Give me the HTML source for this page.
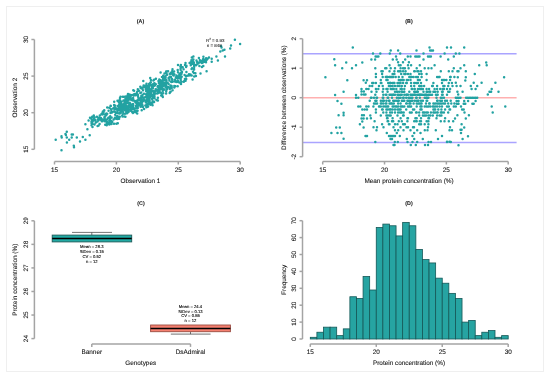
<!DOCTYPE html>
<html><head><meta charset="utf-8"><style>html,body{margin:0;padding:0;background:#fff}svg{display:block}</style></head>
<body><svg width="550" height="379" viewBox="0 0 550 379" font-family='"Liberation Sans", sans-serif'>
<style>text{stroke:#111;stroke-width:0.08px}text.s{stroke:#000;stroke-width:0.1px}text.r{stroke:#333;stroke-width:0.08px}text{text-rendering:geometricPrecision}</style>
<rect width="550" height="379" fill="#fff"/>
<filter id="bl" filterUnits="userSpaceOnUse" x="0" y="0" width="550" height="379"><feGaussianBlur stdDeviation="0.5"/></filter>
<filter id="bt" filterUnits="userSpaceOnUse" x="0" y="0" width="550" height="379"><feGaussianBlur stdDeviation="0.2"/></filter>
<g filter="url(#bl)">
<rect x="6.5" y="6.5" width="537" height="365" fill="none" stroke="#efefef" stroke-width="1"/>
<line x1="34.4" y1="39.5" x2="34.4" y2="149.3" stroke="#a4a4a4" stroke-width="1.5"/>
<line x1="31.4" y1="149.3" x2="34.4" y2="149.3" stroke="#a4a4a4" stroke-width="1.5"/>
<line x1="31.4" y1="112.70000000000002" x2="34.4" y2="112.70000000000002" stroke="#a4a4a4" stroke-width="1.5"/>
<line x1="31.4" y1="76.10000000000001" x2="34.4" y2="76.10000000000001" stroke="#a4a4a4" stroke-width="1.5"/>
<line x1="31.4" y1="39.5" x2="34.4" y2="39.5" stroke="#a4a4a4" stroke-width="1.5"/>
<line x1="54.5" y1="161.5" x2="240.2" y2="161.5" stroke="#a4a4a4" stroke-width="1.5"/>
<line x1="54.5" y1="161.5" x2="54.5" y2="164.5" stroke="#a4a4a4" stroke-width="1.5"/>
<line x1="116.4" y1="161.5" x2="116.4" y2="164.5" stroke="#a4a4a4" stroke-width="1.5"/>
<line x1="178.3" y1="161.5" x2="178.3" y2="164.5" stroke="#a4a4a4" stroke-width="1.5"/>
<line x1="240.2" y1="161.5" x2="240.2" y2="164.5" stroke="#a4a4a4" stroke-width="1.5"/>
<path d="M176.7 77.6h0 M196.7 64.6h0 M155.5 93.6h0 M202.7 61.5h0 M149.8 102.5h0 M177.5 76.3h0 M128.0 94.0h0 M181.9 71.7h0 M125.9 107.8h0 M194.1 67.8h0 M161.2 81.6h0 M181.9 72.4h0 M169.7 92.9h0 M109.3 120.9h0 M111.6 117.5h0 M176.3 82.0h0 M148.1 92.3h0 M145.9 87.2h0 M141.8 103.4h0 M158.5 81.1h0 M125.2 110.4h0 M93.8 115.5h0 M181.5 66.9h0 M146.1 91.1h0 M103.6 111.9h0 M165.6 87.2h0 M180.6 69.7h0 M194.9 64.9h0 M148.4 92.6h0 M148.8 91.2h0 M117.5 118.0h0 M162.1 82.5h0 M135.8 106.1h0 M164.3 76.7h0 M167.5 87.2h0 M148.5 92.2h0 M124.8 104.4h0 M138.0 96.0h0 M137.9 100.6h0 M168.1 71.3h0 M118.8 105.2h0 M190.8 75.2h0 M90.0 117.7h0 M129.9 97.1h0 M155.8 84.3h0 M94.5 124.6h0 M141.9 102.0h0 M154.1 101.9h0 M129.7 102.8h0 M154.6 92.3h0 M140.7 99.0h0 M172.6 74.4h0 M149.0 94.3h0 M110.9 117.7h0 M128.8 105.9h0 M120.0 98.0h0 M135.1 101.7h0 M131.1 110.4h0 M130.6 99.6h0 M180.4 75.9h0 M127.9 99.0h0 M137.2 91.7h0 M110.4 123.5h0 M101.5 113.9h0 M126.3 103.6h0 M116.4 123.7h0 M130.2 110.2h0 M112.2 121.7h0 M128.3 107.0h0 M104.6 118.3h0 M128.5 112.1h0 M164.5 73.5h0 M119.8 116.7h0 M166.1 71.5h0 M141.7 104.9h0 M91.5 123.0h0 M166.9 71.6h0 M193.0 71.7h0 M131.9 104.7h0 M191.4 61.9h0 M193.9 73.1h0 M159.5 90.3h0 M112.0 112.4h0 M186.5 66.1h0 M130.1 96.8h0 M191.6 62.8h0 M150.5 102.9h0 M139.1 90.8h0 M149.4 103.7h0 M174.1 71.4h0 M202.2 60.6h0 M178.0 72.3h0 M112.3 111.9h0 M129.3 99.0h0 M132.1 100.2h0 M118.0 110.0h0 M98.8 117.8h0 M119.0 102.2h0 M191.7 75.4h0 M117.4 117.7h0 M170.2 74.0h0 M154.0 92.7h0 M163.1 86.2h0 M136.5 107.4h0 M137.0 100.8h0 M93.9 118.7h0 M127.0 111.2h0 M163.6 77.8h0 M186.0 79.0h0 M161.3 92.7h0 M125.4 103.2h0 M178.2 77.7h0 M133.3 99.4h0 M186.4 71.9h0 M152.2 87.1h0 M146.6 94.1h0 M105.2 124.7h0 M190.8 62.3h0 M136.7 110.4h0 M162.6 82.5h0 M120.4 105.5h0 M114.0 123.7h0 M205.2 60.1h0 M160.0 83.9h0 M148.5 87.0h0 M157.5 93.6h0 M154.4 94.1h0 M119.4 104.0h0 M138.3 99.6h0 M158.8 82.9h0 M172.6 73.2h0 M106.1 114.4h0 M120.6 111.1h0 M114.1 105.1h0 M102.9 111.6h0 M170.6 91.7h0 M98.9 119.2h0 M192.8 63.7h0 M137.4 94.5h0 M101.7 120.8h0 M122.9 111.9h0 M104.3 119.1h0 M118.7 117.6h0 M179.3 74.8h0 M130.3 103.8h0 M134.3 111.7h0 M143.3 80.9h0 M125.0 113.7h0 M166.9 82.9h0 M110.8 105.9h0 M164.1 79.7h0 M109.4 107.7h0 M150.1 97.1h0 M134.8 108.5h0 M119.1 109.4h0 M154.6 98.3h0 M168.6 78.0h0 M95.3 120.2h0 M110.7 117.2h0 M115.1 105.6h0 M141.5 98.2h0 M203.2 58.9h0 M159.6 79.9h0 M176.4 81.6h0 M92.5 126.9h0 M109.5 122.1h0 M152.9 88.1h0 M147.8 88.2h0 M152.4 102.8h0 M122.7 109.9h0 M102.1 114.6h0 M133.7 95.6h0 M172.5 79.9h0 M140.3 86.8h0 M146.5 86.0h0 M106.4 113.5h0 M122.8 111.8h0 M128.3 106.1h0 M145.6 100.5h0 M191.4 60.2h0 M96.9 116.7h0 M127.4 106.2h0 M142.9 101.2h0 M171.6 86.1h0 M108.6 110.7h0 M113.1 108.4h0 M178.2 82.0h0 M126.0 110.5h0 M130.4 97.7h0 M149.5 94.8h0 M154.1 79.8h0 M127.3 99.1h0 M93.3 120.3h0 M162.2 93.4h0 M175.1 79.5h0 M107.5 118.9h0 M185.0 64.9h0 M148.4 91.1h0 M122.5 107.2h0 M141.3 95.9h0 M91.7 122.2h0 M172.3 71.0h0 M124.1 96.7h0 M154.5 96.2h0 M157.9 100.4h0 M148.9 99.6h0 M147.5 91.8h0 M163.5 84.1h0 M91.6 124.9h0 M126.8 111.1h0 M122.3 104.4h0 M172.6 90.3h0 M119.7 113.4h0 M158.7 91.8h0 M125.6 104.8h0 M133.3 90.2h0 M141.5 96.4h0 M117.4 111.4h0 M141.9 101.9h0 M128.7 106.2h0 M192.2 62.5h0 M194.1 69.5h0 M149.1 98.3h0 M126.9 107.7h0 M169.4 80.6h0 M127.4 109.0h0 M193.0 61.4h0 M181.8 72.1h0 M141.8 88.1h0 M127.2 113.2h0 M117.4 116.1h0 M193.4 59.4h0 M95.2 120.1h0 M171.1 77.2h0 M133.7 109.1h0 M184.3 81.0h0 M153.1 85.7h0 M169.3 79.2h0 M137.9 103.4h0 M105.2 120.6h0 M150.8 82.3h0 M142.1 102.0h0 M146.6 101.1h0 M104.3 110.6h0 M114.2 101.7h0 M183.6 69.2h0 M122.3 111.2h0 M163.7 79.4h0 M102.3 121.2h0 M119.1 108.4h0 M149.6 101.1h0 M197.1 62.0h0 M127.2 106.4h0 M202.9 60.6h0 M143.8 86.9h0 M165.2 83.1h0 M159.5 90.2h0 M114.8 111.7h0 M169.2 87.7h0 M127.7 95.2h0 M136.7 107.7h0 M160.4 85.9h0 M142.2 104.5h0 M155.6 89.3h0 M146.7 96.8h0 M120.9 107.7h0 M150.5 89.5h0 M147.7 99.4h0 M100.9 118.0h0 M155.1 85.2h0 M118.4 101.6h0 M151.0 91.6h0 M92.9 120.3h0 M183.7 81.7h0 M146.4 94.1h0 M186.4 65.7h0 M116.3 118.7h0 M178.6 76.3h0 M157.3 90.4h0 M155.0 85.0h0 M130.6 96.6h0 M104.6 118.5h0 M146.5 83.7h0 M136.3 101.9h0 M173.1 74.9h0 M122.2 105.6h0 M130.9 108.8h0 M150.0 96.4h0 M137.8 89.3h0 M180.0 76.4h0 M124.3 103.3h0 M140.9 103.8h0 M147.2 86.5h0 M156.9 89.6h0 M140.0 104.7h0 M128.1 96.6h0 M137.8 108.0h0 M165.8 80.2h0 M151.9 88.1h0 M123.0 113.7h0 M141.6 95.8h0 M125.4 113.6h0 M150.8 94.5h0 M180.6 68.3h0 M184.6 75.1h0 M116.9 118.6h0 M148.3 99.0h0 M148.5 102.8h0 M125.8 105.6h0 M124.5 116.6h0 M174.3 74.2h0 M161.3 86.6h0 M147.6 105.6h0 M132.5 95.0h0 M147.2 91.7h0 M147.1 100.9h0 M140.2 103.0h0 M169.6 76.8h0 M154.3 94.8h0 M180.9 65.1h0 M131.8 109.2h0 M129.5 105.3h0 M206.1 58.2h0 M99.8 115.5h0 M162.0 86.8h0 M92.2 116.7h0 M166.5 80.3h0 M177.9 80.4h0 M142.7 106.3h0 M189.6 63.1h0 M167.0 89.2h0 M157.6 86.7h0 M166.1 93.5h0 M178.0 65.1h0 M147.3 90.5h0 M160.0 81.2h0 M141.3 105.0h0 M199.4 66.1h0 M160.0 87.5h0 M160.5 92.6h0 M153.0 84.4h0 M136.9 95.1h0 M100.5 118.7h0 M154.7 84.9h0 M132.9 106.5h0 M143.0 87.6h0 M98.6 120.3h0 M147.2 95.8h0 M185.6 80.7h0 M147.4 103.8h0 M94.6 117.8h0 M122.7 108.5h0 M195.4 73.3h0 M146.3 89.7h0 M164.5 89.4h0 M163.5 78.1h0 M140.7 102.8h0 M178.4 77.3h0 M143.6 85.5h0 M150.0 92.5h0 M136.3 103.3h0 M137.5 100.3h0 M146.4 91.4h0 M138.2 105.7h0 M125.4 99.0h0 M153.7 101.5h0 M203.3 66.0h0 M150.9 79.9h0 M139.4 100.2h0 M128.0 103.0h0 M155.2 91.2h0 M172.7 74.5h0 M158.4 85.9h0 M172.6 81.8h0 M136.7 93.2h0 M115.2 114.8h0 M186.2 78.9h0 M149.0 87.8h0 M137.0 105.1h0 M140.7 97.8h0 M91.5 121.4h0 M105.3 116.4h0 M151.2 92.6h0 M132.6 100.2h0 M109.4 124.4h0 M119.2 113.4h0 M150.6 82.6h0 M190.5 74.5h0 M163.9 80.4h0 M125.4 116.8h0 M146.8 100.6h0 M151.2 96.1h0 M148.1 85.8h0 M110.2 116.3h0 M124.4 103.7h0 M132.0 111.7h0 M186.1 67.0h0 M110.2 121.0h0 M138.0 103.1h0 M172.5 69.2h0 M140.6 103.9h0 M129.0 109.5h0 M134.2 108.5h0 M127.3 113.0h0 M193.4 56.5h0 M165.6 77.3h0 M147.0 99.1h0 M149.6 88.9h0 M121.1 108.7h0 M131.8 100.1h0 M119.8 103.1h0 M105.2 114.4h0 M136.2 110.8h0 M157.5 100.6h0 M104.6 116.7h0 M169.8 89.1h0 M119.3 110.1h0 M107.3 122.7h0 M122.8 96.8h0 M171.7 87.1h0 M147.8 106.7h0 M117.8 108.7h0 M127.1 107.9h0 M170.1 92.2h0 M163.5 83.0h0 M120.1 100.3h0 M175.3 86.3h0 M94.6 120.3h0 M161.0 84.8h0 M100.7 119.7h0 M98.6 125.6h0 M150.0 90.1h0 M152.2 99.2h0 M162.2 85.8h0 M162.4 96.0h0 M147.7 96.0h0 M99.6 124.1h0 M194.0 66.0h0 M150.3 97.5h0 M103.6 114.1h0 M105.9 121.4h0 M148.3 94.6h0 M154.5 83.2h0 M181.1 77.4h0 M111.5 123.9h0 M134.8 94.1h0 M104.4 117.4h0 M199.9 60.2h0 M101.7 118.9h0 M117.8 123.2h0 M158.9 88.6h0 M117.4 119.0h0 M177.7 86.2h0 M147.0 98.4h0 M181.5 73.8h0 M140.3 100.6h0 M108.6 123.6h0 M163.2 93.3h0 M149.8 83.3h0 M145.6 85.6h0 M162.1 80.5h0 M148.4 97.8h0 M148.1 106.5h0 M120.2 103.8h0 M108.9 117.6h0 M123.4 107.2h0 M161.3 83.8h0 M142.3 104.7h0 M133.2 100.5h0 M156.5 99.9h0 M152.2 99.1h0 M92.4 123.7h0 M163.2 75.7h0 M129.7 103.3h0 M149.3 101.9h0 M103.8 120.2h0 M132.1 108.7h0 M180.4 66.5h0 M152.5 91.1h0 M165.5 76.2h0 M183.9 81.7h0 M145.7 88.9h0 M150.8 104.0h0 M123.4 104.2h0 M149.9 85.3h0 M147.8 99.1h0 M139.1 104.2h0 M159.7 82.4h0 M94.5 117.3h0 M119.2 108.4h0 M104.2 110.2h0 M132.9 113.0h0 M91.5 125.2h0 M116.7 116.7h0 M128.8 95.3h0 M137.7 103.1h0 M147.6 100.3h0 M138.2 97.5h0 M120.5 96.7h0 M153.0 90.7h0 M179.5 82.4h0 M146.2 94.8h0 M125.5 100.6h0 M124.5 105.2h0 M158.7 89.4h0 M121.2 106.6h0 M157.9 97.7h0 M134.8 110.8h0 M127.7 110.7h0 M133.2 104.1h0 M171.3 82.1h0 M118.3 109.6h0 M174.3 86.0h0 M163.2 76.1h0 M104.7 118.3h0 M155.3 84.1h0 M133.1 98.0h0 M157.7 91.5h0 M158.1 85.9h0 M150.2 78.1h0 M150.9 90.2h0 M163.2 86.1h0 M181.0 84.1h0 M151.8 94.4h0 M141.8 97.0h0 M131.8 106.2h0 M127.4 109.7h0 M115.5 118.6h0 M153.5 90.9h0 M154.3 85.7h0 M138.7 99.9h0 M124.7 109.4h0 M188.9 75.6h0 M177.7 70.1h0 M142.3 96.1h0 M174.3 87.6h0 M142.2 88.8h0 M108.3 117.8h0 M145.3 105.5h0 M161.2 95.6h0 M202.8 62.5h0 M166.2 91.2h0 M146.3 104.9h0 M175.9 77.3h0 M191.6 69.1h0 M153.2 96.0h0 M102.7 112.2h0 M149.6 99.9h0 M125.5 101.5h0 M122.5 116.5h0 M169.8 73.7h0 M136.7 106.0h0 M179.7 74.0h0 M171.7 88.1h0 M145.9 102.5h0 M159.0 83.0h0 M140.6 106.7h0 M145.8 102.3h0 M126.4 112.3h0 M158.9 89.8h0 M144.0 93.8h0 M146.4 107.3h0 M166.2 79.8h0 M160.8 80.6h0 M117.1 112.6h0 M137.6 110.7h0 M151.8 102.9h0 M165.0 78.0h0 M161.8 89.0h0 M153.0 97.7h0 M154.1 94.1h0 M160.6 89.3h0 M148.7 98.1h0 M107.2 113.8h0 M162.8 97.1h0 M176.5 75.5h0 M106.7 125.3h0 M142.8 101.2h0 M163.2 78.6h0 M133.1 105.3h0 M110.9 120.8h0 M124.5 101.2h0 M171.2 72.4h0 M170.9 77.0h0 M161.4 93.3h0 M121.5 101.8h0 M117.8 106.0h0 M122.2 115.4h0 M123.5 100.5h0 M120.7 103.5h0 M162.7 89.7h0 M155.9 78.7h0 M120.5 112.2h0 M105.5 119.8h0 M114.9 117.8h0 M114.8 109.1h0 M174.9 81.4h0 M133.0 98.7h0 M123.2 105.9h0 M110.0 119.1h0 M180.3 78.6h0 M162.0 85.5h0 M161.7 81.6h0 M135.6 95.3h0 M200.4 61.4h0 M150.2 97.1h0 M181.7 76.7h0 M177.6 77.9h0 M167.1 74.7h0 M118.0 108.7h0 M131.4 98.4h0 M134.1 90.8h0 M150.6 104.2h0 M107.2 107.4h0 M124.9 107.5h0 M147.8 97.2h0 M167.6 82.8h0 M152.6 105.3h0 M127.7 110.9h0 M127.0 97.3h0 M129.3 94.5h0 M117.8 112.9h0 M142.5 95.1h0 M163.9 85.0h0 M92.6 121.6h0 M198.3 62.9h0 M143.9 100.4h0 M173.7 75.5h0 M189.0 74.2h0 M187.2 75.7h0 M93.4 120.5h0 M169.8 87.4h0 M133.3 108.1h0 M137.9 94.6h0 M134.5 111.9h0 M158.2 92.1h0 M184.9 79.1h0 M101.7 121.2h0 M97.6 125.9h0 M140.3 93.1h0 M127.7 102.0h0 M159.3 79.4h0 M119.8 100.8h0 M110.6 105.8h0 M134.1 94.2h0 M162.9 90.7h0 M126.3 106.2h0 M119.1 107.5h0 M122.4 108.4h0 M130.7 95.1h0 M117.5 100.7h0 M149.1 83.9h0 M173.6 74.1h0 M97.5 121.6h0 M142.8 107.1h0 M152.5 101.4h0 M190.4 63.3h0 M131.0 107.6h0 M119.7 99.8h0 M113.8 111.5h0 M160.8 87.1h0 M140.9 103.0h0 M144.1 108.9h0 M186.0 76.2h0 M147.3 95.9h0 M166.5 73.6h0 M143.8 97.9h0 M139.2 98.7h0 M125.5 102.4h0 M141.3 99.8h0 M127.8 106.2h0 M120.4 113.0h0 M146.4 97.4h0 M129.2 99.5h0 M149.6 85.5h0 M171.9 73.3h0 M127.2 108.2h0 M125.6 103.0h0 M115.6 107.7h0 M172.0 79.1h0 M127.4 101.8h0 M119.7 102.3h0 M114.5 107.1h0 M131.5 108.2h0 M129.3 105.6h0 M190.8 65.3h0 M141.2 92.6h0 M135.3 101.8h0 M154.0 91.5h0 M196.0 65.2h0 M153.4 80.4h0 M130.0 105.8h0 M141.7 110.3h0 M190.7 63.0h0 M203.4 56.7h0 M135.0 101.0h0 M144.0 100.0h0 M129.5 104.0h0 M143.0 90.2h0 M170.4 85.6h0 M142.3 99.9h0 M153.4 84.0h0 M128.1 102.7h0 M181.4 81.7h0 M143.2 97.5h0 M166.3 80.7h0 M125.1 108.6h0 M146.5 97.7h0 M162.0 77.0h0 M106.8 124.0h0 M88.6 120.6h0 M180.7 79.9h0 M180.6 73.1h0 M113.6 119.5h0 M98.8 119.7h0 M107.6 124.1h0 M128.8 103.7h0 M106.5 114.8h0 M110.5 113.0h0 M127.9 108.2h0 M129.3 104.1h0 M132.7 112.7h0 M147.1 91.7h0 M168.5 83.7h0 M147.3 96.5h0 M152.0 103.2h0 M137.2 107.0h0 M160.6 72.6h0 M162.3 82.9h0 M98.5 120.2h0 M166.0 84.9h0 M167.1 87.2h0 M125.7 105.8h0 M185.5 63.1h0 M150.4 104.8h0 M120.2 112.5h0 M182.7 67.3h0 M158.6 92.7h0 M91.9 119.4h0 M148.1 97.9h0 M105.1 116.7h0 M91.3 118.7h0 M125.1 109.5h0 M120.5 102.1h0 M140.8 106.3h0 M198.9 58.0h0 M151.9 86.4h0 M104.2 110.7h0 M167.9 86.7h0 M97.9 119.3h0 M118.0 118.0h0 M146.4 88.1h0 M145.1 97.2h0 M130.7 110.7h0 M128.7 107.5h0 M133.4 100.6h0 M141.2 100.2h0 M125.9 96.5h0 M119.7 100.2h0 M171.4 82.0h0 M120.6 113.0h0 M193.9 63.0h0 M132.9 100.4h0 M140.6 88.1h0 M111.3 111.1h0 M162.8 88.7h0 M165.2 85.5h0 M125.0 103.1h0 M127.8 100.6h0 M122.4 111.6h0 M95.8 122.4h0 M137.2 113.5h0 M128.4 108.3h0 M104.8 121.3h0 M192.1 68.3h0 M151.1 84.8h0 M141.6 106.0h0 M176.6 77.7h0 M127.9 98.1h0 M123.1 105.5h0 M116.7 109.4h0 M193.9 62.4h0 M111.0 109.2h0 M148.1 98.6h0 M158.3 86.8h0 M111.8 121.6h0 M135.8 112.2h0 M180.7 78.7h0 M115.9 112.8h0 M119.1 118.8h0 M146.9 90.7h0 M106.8 121.6h0 M152.4 90.8h0 M55.7 139.7h0 M61.5 136.2h0 M61.7 137.6h0 M66.8 131.8h0 M65.5 133.9h0 M65.9 135.0h0 M66.8 137.6h0 M69.2 139.7h0 M66.9 142.6h0 M71.7 134.5h0 M72.9 134.5h0 M71.7 137.6h0 M76.8 137.6h0 M73.8 145.7h0 M74.0 147.3h0 M61.5 150.3h0 M80.0 141.4h0 M82.8 136.9h0 M85.4 139.7h0 M85.4 124.3h0 M89.7 135.2h0 M87.4 129.2h0 M234.9 39.8h0 M240.1 43.9h0 M231.0 45.5h0 M230.2 48.4h0 M221.1 46.3h0 M221.5 47.5h0 M224.4 49.8h0 M222.7 50.4h0 M220.3 51.6h0 M225.0 56.4h0 M216.4 56.6h0 M217.9 60.5h0 M211.7 58.8h0 M211.7 61.7h0 M209.0 57.6h0 M207.6 58.8h0 M206.6 60.0h0 M205.2 59.4h0 M203.7 60.0h0 M202.8 61.1h0 M204.3 61.7h0 M206.0 62.3h0 M201.9 62.9h0 M191.8 57.6h0 M196.5 60.5h0 M206.6 71.2h0 M201.9 67.1h0 M200.5 73.6h0 M195.9 76.0h0 M194.2 76.6h0 M192.6 79.5h0 M198.1 63.5h0 M199.5 62.6h0" stroke="#22a2a2" stroke-width="2.5" stroke-linecap="round"/>
<line x1="302.6" y1="53.8" x2="516.6" y2="53.8" stroke="#aaa4ff" stroke-width="1.5"/>
<line x1="302.6" y1="142.5" x2="516.6" y2="142.5" stroke="#aaa4ff" stroke-width="1.5"/>
<line x1="302.6" y1="97.8" x2="516.6" y2="97.8" stroke="#ffb0b0" stroke-width="1.5"/>
<line x1="302.6" y1="38.7" x2="302.6" y2="156.7" stroke="#a4a4a4" stroke-width="1.5"/>
<line x1="299.6" y1="156.7" x2="302.6" y2="156.7" stroke="#a4a4a4" stroke-width="1.5"/>
<line x1="299.6" y1="127.2" x2="302.6" y2="127.2" stroke="#a4a4a4" stroke-width="1.5"/>
<line x1="299.6" y1="97.7" x2="302.6" y2="97.7" stroke="#a4a4a4" stroke-width="1.5"/>
<line x1="299.6" y1="68.2" x2="302.6" y2="68.2" stroke="#a4a4a4" stroke-width="1.5"/>
<line x1="299.6" y1="38.7" x2="302.6" y2="38.7" stroke="#a4a4a4" stroke-width="1.5"/>
<line x1="322.7" y1="161.5" x2="508.2" y2="161.5" stroke="#a4a4a4" stroke-width="1.5"/>
<line x1="322.7" y1="161.5" x2="322.7" y2="164.5" stroke="#a4a4a4" stroke-width="1.5"/>
<line x1="384.5333333333333" y1="161.5" x2="384.5333333333333" y2="164.5" stroke="#a4a4a4" stroke-width="1.5"/>
<line x1="446.3666666666667" y1="161.5" x2="446.3666666666667" y2="164.5" stroke="#a4a4a4" stroke-width="1.5"/>
<line x1="508.2" y1="161.5" x2="508.2" y2="164.5" stroke="#a4a4a4" stroke-width="1.5"/>
<path d="M368.5 88.9h0 M414.2 109.5h0 M372.2 83.0h0 M382.1 74.1h0 M436.5 97.7h0 M387.6 80.0h0 M412.4 88.9h0 M387.6 118.3h0 M429.1 88.9h0 M403.1 68.2h0 M426.6 106.5h0 M398.8 83.0h0 M433.4 91.8h0 M409.9 112.5h0 M416.7 106.5h0 M426.0 97.7h0 M376.5 97.7h0 M438.3 109.5h0 M416.7 91.8h0 M421.0 109.5h0 M430.3 115.4h0 M403.1 97.7h0 M435.2 112.5h0 M424.7 68.2h0 M393.2 121.3h0 M383.3 97.7h0 M382.1 109.5h0 M410.5 103.6h0 M426.6 74.1h0 M421.0 94.8h0 M419.8 65.2h0 M428.4 121.3h0 M415.4 94.8h0 M426.6 88.9h0 M368.5 106.5h0 M399.4 91.8h0 M375.9 74.1h0 M375.3 94.8h0 M432.8 106.5h0 M428.4 97.7h0 M389.5 115.4h0 M392.6 94.8h0 M386.4 68.2h0 M437.1 103.6h0 M419.8 94.8h0 M414.2 71.2h0 M439.6 106.5h0 M390.1 109.5h0 M423.5 91.8h0 M413.0 109.5h0 M392.6 109.5h0 M375.3 103.6h0 M438.3 109.5h0 M427.8 91.8h0 M392.0 97.7h0 M423.5 112.5h0 M418.5 94.8h0 M450.7 77.1h0 M379.6 106.5h0 M417.9 100.7h0 M394.4 83.0h0 M390.7 83.0h0 M396.9 100.7h0 M440.8 97.7h0 M411.1 106.5h0 M386.4 103.6h0 M421.6 106.5h0 M444.5 80.0h0 M437.1 88.9h0 M419.8 103.6h0 M420.4 106.5h0 M381.4 103.6h0 M442.0 83.0h0 M391.3 77.1h0 M416.7 103.6h0 M419.2 124.2h0 M398.8 65.2h0 M411.1 97.7h0 M419.8 97.7h0 M451.3 103.6h0 M385.8 103.6h0 M389.5 103.6h0 M389.5 71.2h0 M419.8 85.9h0 M397.5 94.8h0 M390.7 115.4h0 M403.7 97.7h0 M375.9 109.5h0 M387.6 88.9h0 M429.1 103.6h0 M437.1 115.4h0 M430.9 112.5h0 M393.2 100.7h0 M442.0 106.5h0 M375.3 100.7h0 M418.5 80.0h0 M432.1 85.9h0 M422.9 112.5h0 M386.4 100.7h0 M429.7 94.8h0 M435.2 103.6h0 M416.1 97.7h0 M395.0 112.5h0 M392.0 112.5h0 M395.0 94.8h0 M416.7 118.3h0 M421.6 88.9h0 M412.4 100.7h0 M386.4 115.4h0 M406.2 109.5h0 M388.2 106.5h0 M382.7 100.7h0 M442.0 94.8h0 M376.5 100.7h0 M437.7 112.5h0 M431.5 68.2h0 M373.4 83.0h0 M429.7 94.8h0 M386.4 77.1h0 M433.4 91.8h0 M409.3 103.6h0 M398.8 94.8h0 M375.9 74.1h0 M387.0 77.1h0 M437.1 77.1h0 M390.7 103.6h0 M395.0 85.9h0 M404.3 100.7h0 M401.8 88.9h0 M375.9 77.1h0 M403.1 71.2h0 M406.8 83.0h0 M452.5 71.2h0 M442.7 91.8h0 M383.3 88.9h0 M373.4 106.5h0 M406.2 94.8h0 M404.3 91.8h0 M426.6 94.8h0 M382.7 71.2h0 M437.1 106.5h0 M442.0 97.7h0 M441.4 112.5h0 M382.7 97.7h0 M377.1 103.6h0 M404.9 85.9h0 M395.0 100.7h0 M398.8 109.5h0 M369.7 100.7h0 M442.0 100.7h0 M385.2 106.5h0 M411.7 77.1h0 M372.2 85.9h0 M389.5 94.8h0 M416.1 121.3h0 M447.0 88.9h0 M370.9 118.3h0 M391.3 94.8h0 M413.6 94.8h0 M420.4 109.5h0 M440.8 112.5h0 M416.1 112.5h0 M418.5 103.6h0 M409.3 103.6h0 M403.7 100.7h0 M389.5 77.1h0 M426.6 88.9h0 M404.3 74.1h0 M404.3 124.2h0 M398.8 121.3h0 M387.6 121.3h0 M412.4 97.7h0 M391.3 103.6h0 M393.2 94.8h0 M411.1 77.1h0 M392.6 121.3h0 M402.5 91.8h0 M387.6 97.7h0 M390.1 83.0h0 M420.4 94.8h0 M392.6 106.5h0 M403.1 115.4h0 M379.0 106.5h0 M416.1 77.1h0 M428.4 118.3h0 M443.9 103.6h0 M375.3 68.2h0 M442.0 103.6h0 M390.7 85.9h0 M376.5 100.7h0 M443.3 85.9h0 M409.9 97.7h0 M447.0 106.5h0 M395.0 68.2h0 M421.6 103.6h0 M428.4 124.2h0 M421.0 103.6h0 M404.9 85.9h0 M414.2 121.3h0 M400.6 80.0h0 M393.8 83.0h0 M444.5 85.9h0 M434.6 109.5h0 M433.4 83.0h0 M393.8 103.6h0 M411.1 106.5h0 M386.4 94.8h0 M421.6 88.9h0 M427.2 97.7h0 M377.1 97.7h0 M382.7 109.5h0 M387.6 106.5h0 M371.5 91.8h0 M388.9 85.9h0 M369.7 85.9h0 M438.9 77.1h0 M414.8 71.2h0 M400.6 97.7h0 M424.7 106.5h0 M402.5 100.7h0 M387.6 109.5h0 M419.2 74.1h0 M400.0 83.0h0 M380.8 100.7h0 M410.5 94.8h0 M421.0 71.2h0 M400.6 103.6h0 M421.0 103.6h0 M421.6 77.1h0 M414.2 85.9h0 M404.9 68.2h0 M434.6 88.9h0 M448.2 85.9h0 M383.3 106.5h0 M386.4 115.4h0 M406.2 97.7h0 M448.8 71.2h0 M393.2 88.9h0 M390.1 77.1h0 M414.8 94.8h0 M440.2 100.7h0 M410.5 74.1h0 M370.9 97.7h0 M398.8 77.1h0 M437.7 100.7h0 M403.1 83.0h0 M417.9 77.1h0 M401.8 85.9h0 M430.3 91.8h0 M437.7 91.8h0 M430.3 94.8h0 M446.4 80.0h0 M453.2 121.3h0 M391.3 103.6h0 M388.2 83.0h0 M443.9 112.5h0 M409.9 100.7h0 M433.4 109.5h0 M429.1 88.9h0 M386.4 80.0h0 M400.6 68.2h0 M424.1 85.9h0 M401.8 112.5h0 M397.5 91.8h0 M419.8 85.9h0 M428.4 68.2h0 M395.0 94.8h0 M442.0 91.8h0 M443.9 88.9h0 M421.0 83.0h0 M401.2 88.9h0 M378.3 88.9h0 M402.5 80.0h0 M442.7 88.9h0 M435.2 109.5h0 M404.3 88.9h0 M399.4 71.2h0 M382.7 100.7h0 M398.8 97.7h0 M416.7 121.3h0 M450.1 77.1h0 M428.4 106.5h0 M416.7 112.5h0 M433.4 106.5h0 M426.0 115.4h0 M413.6 103.6h0 M418.5 71.2h0 M452.5 85.9h0 M381.4 71.2h0 M400.6 65.2h0 M422.9 115.4h0 M375.9 88.9h0 M411.1 65.2h0 M454.4 77.1h0 M414.2 91.8h0 M399.4 109.5h0 M386.4 88.9h0 M390.7 103.6h0 M415.4 118.3h0 M414.8 88.9h0 M383.3 112.5h0 M400.6 106.5h0 M383.3 97.7h0 M426.0 94.8h0 M437.1 85.9h0 M402.5 77.1h0 M401.8 94.8h0 M410.5 103.6h0 M390.7 109.5h0 M394.4 74.1h0 M374.0 103.6h0 M389.5 77.1h0 M393.8 83.0h0 M390.7 109.5h0 M447.0 100.7h0 M416.7 112.5h0 M375.9 83.0h0 M392.0 77.1h0 M392.0 121.3h0 M421.6 77.1h0 M397.5 94.8h0 M406.2 83.0h0 M429.1 118.3h0 M429.7 103.6h0 M424.7 112.5h0 M407.4 121.3h0 M403.1 124.2h0 M407.4 94.8h0 M408.0 106.5h0 M445.1 109.5h0 M426.6 80.0h0 M401.8 100.7h0 M448.2 112.5h0 M416.7 100.7h0 M419.8 121.3h0 M387.6 88.9h0 M393.8 94.8h0 M411.1 94.8h0 M401.8 100.7h0 M413.6 77.1h0 M370.3 115.4h0 M441.4 109.5h0 M419.8 103.6h0 M400.6 71.2h0 M424.7 97.7h0 M429.7 91.8h0 M449.5 109.5h0 M429.7 91.8h0 M414.2 83.0h0 M383.3 94.8h0 M387.6 91.8h0 M382.7 91.8h0 M421.6 109.5h0 M380.8 100.7h0 M409.9 77.1h0 M426.0 103.6h0 M426.6 112.5h0 M392.0 103.6h0 M400.6 83.0h0 M396.3 88.9h0 M393.8 88.9h0 M450.1 80.0h0 M395.0 124.2h0 M447.0 88.9h0 M371.5 97.7h0 M418.5 100.7h0 M424.7 124.2h0 M440.2 88.9h0 M439.6 77.1h0 M409.3 77.1h0 M414.8 100.7h0 M411.1 83.0h0 M426.6 80.0h0 M382.7 100.7h0 M398.1 71.2h0 M437.7 94.8h0 M408.0 94.8h0 M426.0 94.8h0 M437.1 94.8h0 M404.3 106.5h0 M417.9 80.0h0 M419.2 112.5h0 M433.4 112.5h0 M417.9 88.9h0 M453.8 106.5h0 M380.8 100.7h0 M404.9 124.2h0 M410.5 80.0h0 M416.1 97.7h0 M398.8 100.7h0 M393.2 88.9h0 M401.8 91.8h0 M398.1 112.5h0 M387.6 91.8h0 M395.7 106.5h0 M451.9 83.0h0 M397.5 124.2h0 M386.4 109.5h0 M422.9 94.8h0 M442.0 112.5h0 M385.8 77.1h0 M406.2 103.6h0 M401.8 121.3h0 M394.4 71.2h0 M448.8 83.0h0 M424.7 115.4h0 M408.0 74.1h0 M400.6 94.8h0 M445.1 103.6h0 M389.5 65.2h0 M400.6 109.5h0 M380.8 103.6h0 M439.6 115.4h0 M398.8 94.8h0 M408.6 97.7h0 M380.8 83.0h0 M385.8 94.8h0 M374.6 121.3h0 M428.4 115.4h0 M390.7 68.2h0 M382.7 77.1h0 M407.4 100.7h0 M383.3 100.7h0 M411.7 100.7h0 M396.9 97.7h0 M408.6 100.7h0 M403.7 80.0h0 M450.1 109.5h0 M390.7 94.8h0 M409.9 106.5h0 M435.2 91.8h0 M408.6 68.2h0 M398.1 106.5h0 M440.8 71.2h0 M419.8 88.9h0 M401.2 112.5h0 M397.5 85.9h0 M410.5 74.1h0 M376.5 91.8h0 M432.8 85.9h0 M438.9 103.6h0 M386.4 112.5h0 M406.8 80.0h0 M400.6 118.3h0 M417.9 80.0h0 M416.7 68.2h0 M380.8 115.4h0 M400.6 103.6h0 M417.3 71.2h0 M432.8 115.4h0 M426.6 121.3h0 M417.9 83.0h0 M395.0 91.8h0 M387.6 77.1h0 M415.4 91.8h0 M450.1 88.9h0 M397.5 83.0h0 M411.1 85.9h0 M403.7 115.4h0 M406.8 103.6h0 M450.7 100.7h0 M389.5 124.2h0 M441.4 115.4h0 M430.3 115.4h0 M405.6 74.1h0 M449.5 91.8h0 M448.2 103.6h0 M442.0 103.6h0 M437.7 91.8h0 M411.7 112.5h0 M400.6 103.6h0 M392.6 85.9h0 M421.0 83.0h0 M442.0 80.0h0 M400.6 88.9h0 M411.7 88.9h0 M448.2 91.8h0 M408.0 65.2h0 M389.5 94.8h0 M444.5 121.3h0 M387.0 118.3h0 M393.8 83.0h0 M395.7 77.1h0 M417.9 83.0h0 M381.4 83.0h0 M414.2 94.8h0 M382.1 124.2h0 M403.7 112.5h0 M393.2 77.1h0 M409.3 106.5h0 M411.1 83.0h0 M432.1 94.8h0 M421.0 100.7h0 M417.9 83.0h0 M379.0 85.9h0 M400.0 83.0h0 M389.5 124.2h0 M417.3 94.8h0 M416.1 83.0h0 M409.9 103.6h0 M398.8 80.0h0 M419.2 94.8h0 M446.4 80.0h0 M412.4 94.8h0 M383.9 100.7h0 M390.7 88.9h0 M401.8 80.0h0 M417.9 91.8h0 M408.0 106.5h0 M437.1 112.5h0 M424.7 106.5h0 M448.8 106.5h0 M406.8 94.8h0 M425.3 94.8h0 M422.9 100.7h0 M419.8 97.7h0 M404.3 94.8h0 M385.2 68.2h0 M421.6 74.1h0 M386.4 109.5h0 M421.6 88.9h0 M454.4 103.6h0 M398.1 100.7h0 M440.2 103.6h0 M450.1 109.5h0 M397.5 115.4h0 M400.0 112.5h0 M424.7 94.8h0 M401.2 74.1h0 M408.0 118.3h0 M419.2 85.9h0 M385.2 106.5h0 M409.3 91.8h0 M375.9 112.5h0 M383.3 103.6h0 M376.5 100.7h0 M445.1 100.7h0 M437.1 94.8h0 M407.4 100.7h0 M374.0 97.7h0 M417.9 83.0h0 M424.7 97.7h0 M435.9 94.8h0 M416.7 91.8h0 M393.8 106.5h0 M421.0 121.3h0 M421.0 106.5h0 M401.8 106.5h0 M426.6 97.7h0 M453.8 68.2h0 M386.4 106.5h0 M402.5 106.5h0 M442.0 91.8h0 M447.0 88.9h0 M427.8 112.5h0 M407.4 118.3h0 M417.3 91.8h0 M443.3 80.0h0 M388.2 97.7h0 M435.2 106.5h0 M419.2 115.4h0 M421.6 94.8h0 M419.8 85.9h0 M433.4 103.6h0 M435.2 112.5h0 M447.0 94.8h0 M395.0 85.9h0 M416.7 97.7h0 M395.0 109.5h0 M399.4 85.9h0 M437.1 100.7h0 M388.2 121.3h0 M411.1 97.7h0 M421.0 124.2h0 M380.8 80.0h0 M412.4 88.9h0 M436.5 118.3h0 M428.4 94.8h0 M405.6 71.2h0 M419.8 80.0h0 M426.6 100.7h0 M421.6 85.9h0 M421.0 118.3h0 M418.5 100.7h0 M448.8 121.3h0 M414.8 100.7h0 M392.0 88.9h0 M417.9 88.9h0 M397.5 109.5h0 M442.7 94.8h0 M426.6 91.8h0 M422.9 88.9h0 M392.6 74.1h0 M392.6 83.0h0 M392.6 83.0h0 M392.6 118.3h0 M427.2 100.7h0 M443.9 97.7h0 M398.1 103.6h0 M408.0 80.0h0 M389.5 83.0h0 M386.4 80.0h0 M430.3 106.5h0 M388.9 124.2h0 M380.8 106.5h0 M388.9 100.7h0 M389.5 109.5h0 M434.6 65.2h0 M396.9 91.8h0 M387.6 115.4h0 M390.1 112.5h0 M426.6 100.7h0 M396.3 106.5h0 M413.6 94.8h0 M434.0 112.5h0 M389.5 100.7h0 M445.1 118.3h0 M420.4 106.5h0 M386.4 106.5h0 M382.7 85.9h0 M440.8 121.3h0 M352.8 47.6h0 M334.3 59.3h0 M335.1 65.3h0 M346.2 62.5h0 M342.2 68.2h0 M352.0 68.2h0 M356.0 65.3h0 M325.4 77.2h0 M347.3 80.3h0 M343.6 91.7h0 M335.1 94.9h0 M356.0 94.9h0 M337.5 100.9h0 M341.4 103.7h0 M338.6 115.3h0 M343.6 112.7h0 M343.6 115.3h0 M336.2 127.4h0 M339.8 127.4h0 M331.4 133.0h0 M337.5 133.0h0 M341.4 133.0h0 M343.6 138.8h0 M356.0 97.8h0 M362.3 62.5h0 M363.6 80.3h0 M365.8 82.7h0 M367.0 80.3h0 M361.5 89.0h0 M361.5 91.4h0 M363.9 91.4h0 M366.3 89.0h0 M361.5 94.6h0 M363.9 94.6h0 M365.5 94.6h0 M358.3 97.8h0 M358.3 106.6h0 M360.4 106.6h0 M366.3 106.6h0 M362.3 109.6h0 M364.7 109.6h0 M367.0 109.6h0 M362.0 115.3h0 M363.9 115.3h0 M361.5 118.4h0 M363.6 118.4h0 M367.0 118.4h0 M362.3 121.6h0 M359.9 124.3h0 M363.6 127.4h0 M365.5 136.1h0 M367.0 136.1h0 M464.2 47.6h0 M455.8 53.5h0 M459.4 53.5h0 M464.2 65.3h0 M460.5 68.2h0 M457.4 71.2h0 M458.5 71.2h0 M465.8 71.2h0 M479.2 65.3h0 M486.2 62.5h0 M486.7 65.3h0 M474.8 74.0h0 M457.8 77.2h0 M465.8 77.2h0 M465.3 80.4h0 M504.1 77.2h0 M455.8 82.7h0 M473.7 82.7h0 M481.6 82.7h0 M495.4 82.7h0 M456.6 85.9h0 M460.5 85.9h0 M470.8 85.9h0 M477.2 85.9h0 M471.6 89.1h0 M475.6 89.1h0 M491.7 89.1h0 M457.4 91.8h0 M462.6 91.8h0 M489.5 91.8h0 M491.1 91.8h0 M498.5 91.8h0 M487.8 94.6h0 M458.2 94.6h0 M455.8 97.7h0 M457.4 97.7h0 M459.0 97.7h0 M460.5 97.7h0 M466.1 97.7h0 M467.7 97.7h0 M469.2 97.7h0 M470.8 97.7h0 M472.4 97.7h0 M474.0 97.7h0 M475.6 97.7h0 M477.2 97.7h0 M456.6 100.9h0 M458.5 100.9h0 M464.2 100.9h0 M468.1 100.9h0 M475.6 100.9h0 M456.9 103.7h0 M458.5 103.7h0 M463.7 103.7h0 M465.3 103.7h0 M472.4 103.7h0 M473.7 103.7h0 M455.8 106.6h0 M461.0 106.6h0 M491.7 106.6h0 M505.3 106.6h0 M462.1 109.6h0 M463.7 109.6h0 M464.5 112.4h0 M492.7 112.4h0 M457.4 115.3h0 M468.9 115.3h0 M455.0 118.4h0 M465.8 118.4h0 M461.6 124.3h0 M464.2 127.5h0 M460.5 129.8h0 M461.6 129.8h0 M461.0 133.0h0 M468.0 136.2h0 M462.6 138.9h0 M458.5 145.2h0 M449.5 141.8h0 M447.0 141.8h0 M429.5 47.6h0 M447.0 47.6h0 M451.0 47.6h0 M390.7 50.5h0 M398.1 50.5h0 M416.5 50.5h0 M430.1 50.5h0 M431.6 50.5h0 M433.0 50.5h0 M373.0 53.5h0 M380.3 53.5h0 M389.8 53.5h0 M400.2 53.5h0 M423.5 53.5h0 M444.6 53.5h0 M375.6 56.4h0 M377.0 56.4h0 M378.4 56.4h0 M396.0 56.4h0 M407.8 56.4h0 M410.5 56.4h0 M415.3 56.4h0 M416.9 56.4h0 M418.4 56.4h0 M419.5 56.4h0 M428.0 56.4h0 M429.5 56.4h0 M430.9 56.4h0 M440.6 56.4h0 M453.8 56.4h0 M371.4 59.4h0 M375.1 59.4h0 M392.8 59.4h0 M396.7 59.4h0 M405.2 59.4h0 M423.5 59.4h0 M448.2 59.4h0 M398.1 62.3h0 M403.0 62.3h0 M408.9 62.3h0 M373.5 127.2h0 M377.0 127.2h0 M383.5 127.2h0 M393.5 127.2h0 M400.5 127.2h0 M406.5 127.2h0 M408.0 127.2h0 M413.0 127.2h0 M414.0 127.2h0 M428.0 127.2h0 M450.0 127.2h0 M376.5 130.2h0 M395.0 130.2h0 M398.2 130.2h0 M403.5 130.2h0 M410.5 130.2h0 M417.2 130.2h0 M424.8 130.2h0 M427.5 130.2h0 M435.8 130.2h0 M449.5 130.2h0 M452.0 130.2h0 M386.8 133.1h0 M396.8 133.1h0 M414.2 133.1h0 M420.5 133.1h0 M389.0 136.1h0 M390.5 136.1h0 M392.0 136.1h0 M393.5 136.1h0 M395.0 136.1h0 M399.8 136.1h0 M412.5 136.1h0 M442.0 136.1h0 M390.5 139.0h0 M392.0 139.0h0 M406.8 139.0h0 M414.2 139.0h0 M422.8 139.0h0 M438.0 139.0h0 M375.3 141.9h0 M394.8 141.9h0 M397.8 141.9h0 M407.5 141.9h0 M412.5 141.9h0 M417.2 141.9h0 M428.5 141.9h0 M431.0 141.9h0 M447.0 141.9h0 M450.8 141.9h0 M393.5 144.9h0 M394.5 144.9h0 M410.8 144.9h0 M415.8 144.9h0 M425.0 144.9h0 M428.0 144.9h0" stroke="#22a2a2" stroke-width="2.5" stroke-linecap="round"/>
<line x1="34.4" y1="220.8" x2="34.4" y2="338.6" stroke="#a4a4a4" stroke-width="1.5"/>
<line x1="31.4" y1="338.6" x2="34.4" y2="338.6" stroke="#a4a4a4" stroke-width="1.5"/>
<line x1="31.4" y1="315.04" x2="34.4" y2="315.04" stroke="#a4a4a4" stroke-width="1.5"/>
<line x1="31.4" y1="291.48" x2="34.4" y2="291.48" stroke="#a4a4a4" stroke-width="1.5"/>
<line x1="31.4" y1="267.92" x2="34.4" y2="267.92" stroke="#a4a4a4" stroke-width="1.5"/>
<line x1="31.4" y1="244.36" x2="34.4" y2="244.36" stroke="#a4a4a4" stroke-width="1.5"/>
<line x1="31.4" y1="220.8" x2="34.4" y2="220.8" stroke="#a4a4a4" stroke-width="1.5"/>
<line x1="91.8" y1="343.9" x2="190.5" y2="343.9" stroke="#a4a4a4" stroke-width="1.5"/>
<line x1="91.8" y1="343.9" x2="91.8" y2="346.9" stroke="#a4a4a4" stroke-width="1.5"/>
<line x1="190.5" y1="343.9" x2="190.5" y2="346.9" stroke="#a4a4a4" stroke-width="1.5"/>
<line x1="72" y1="232.4" x2="112" y2="232.4" stroke="#444" stroke-width="0.75"/>
<line x1="91.8" y1="232.4" x2="91.8" y2="235.1" stroke="#444" stroke-width="0.75"/>
<rect x="52.2" y="235.1" width="79.49999999999999" height="6.800000000000011" fill="#22aaa4" stroke="#1d5a58" stroke-width="0.9"/>
<line x1="52.2" y1="238.5" x2="131.7" y2="238.5" stroke="#000" stroke-width="1.4"/>
<line x1="170.8" y1="334.1" x2="210.6" y2="334.1" stroke="#444" stroke-width="0.75"/>
<line x1="190.5" y1="334.1" x2="190.5" y2="331.7" stroke="#444" stroke-width="0.75"/>
<rect x="150.6" y="325" width="79.80000000000001" height="6.699999999999989" fill="#f58070" stroke="#9a4a40" stroke-width="0.9"/>
<line x1="150.6" y1="328.5" x2="230.4" y2="328.5" stroke="#000" stroke-width="1.4"/>
<line x1="302.5" y1="220.7" x2="302.5" y2="339.0" stroke="#a4a4a4" stroke-width="1.5"/>
<line x1="299.5" y1="339.0" x2="302.5" y2="339.0" stroke="#a4a4a4" stroke-width="1.5"/>
<line x1="299.5" y1="322.1" x2="302.5" y2="322.1" stroke="#a4a4a4" stroke-width="1.5"/>
<line x1="299.5" y1="305.2" x2="302.5" y2="305.2" stroke="#a4a4a4" stroke-width="1.5"/>
<line x1="299.5" y1="288.3" x2="302.5" y2="288.3" stroke="#a4a4a4" stroke-width="1.5"/>
<line x1="299.5" y1="271.4" x2="302.5" y2="271.4" stroke="#a4a4a4" stroke-width="1.5"/>
<line x1="299.5" y1="254.5" x2="302.5" y2="254.5" stroke="#a4a4a4" stroke-width="1.5"/>
<line x1="299.5" y1="237.6" x2="302.5" y2="237.6" stroke="#a4a4a4" stroke-width="1.5"/>
<line x1="299.5" y1="220.7" x2="302.5" y2="220.7" stroke="#a4a4a4" stroke-width="1.5"/>
<line x1="310.3" y1="343.9" x2="508.2" y2="343.9" stroke="#a4a4a4" stroke-width="1.5"/>
<line x1="310.3" y1="343.9" x2="310.3" y2="346.9" stroke="#a4a4a4" stroke-width="1.5"/>
<line x1="376.26666666666665" y1="343.9" x2="376.26666666666665" y2="346.9" stroke="#a4a4a4" stroke-width="1.5"/>
<line x1="442.23333333333335" y1="343.9" x2="442.23333333333335" y2="346.9" stroke="#a4a4a4" stroke-width="1.5"/>
<line x1="508.2" y1="343.9" x2="508.2" y2="346.9" stroke="#a4a4a4" stroke-width="1.5"/>
<rect x="310.30" y="337.31" width="6.60" height="1.69" fill="#28a4a2" stroke="#145857" stroke-width="0.8"/>
<rect x="316.90" y="332.24" width="6.60" height="6.76" fill="#28a4a2" stroke="#145857" stroke-width="0.8"/>
<rect x="323.49" y="327.17" width="6.60" height="11.83" fill="#28a4a2" stroke="#145857" stroke-width="0.8"/>
<rect x="330.09" y="327.17" width="6.60" height="11.83" fill="#28a4a2" stroke="#145857" stroke-width="0.8"/>
<rect x="336.69" y="335.62" width="6.60" height="3.38" fill="#28a4a2" stroke="#145857" stroke-width="0.8"/>
<rect x="343.28" y="328.86" width="6.60" height="10.14" fill="#28a4a2" stroke="#145857" stroke-width="0.8"/>
<rect x="349.88" y="296.75" width="6.60" height="42.25" fill="#28a4a2" stroke="#145857" stroke-width="0.8"/>
<rect x="356.48" y="298.44" width="6.60" height="40.56" fill="#28a4a2" stroke="#145857" stroke-width="0.8"/>
<rect x="363.07" y="276.47" width="6.60" height="62.53" fill="#28a4a2" stroke="#145857" stroke-width="0.8"/>
<rect x="369.67" y="289.99" width="6.60" height="49.01" fill="#28a4a2" stroke="#145857" stroke-width="0.8"/>
<rect x="376.27" y="227.46" width="6.60" height="111.54" fill="#28a4a2" stroke="#145857" stroke-width="0.8"/>
<rect x="382.86" y="224.08" width="6.60" height="114.92" fill="#28a4a2" stroke="#145857" stroke-width="0.8"/>
<rect x="389.46" y="225.77" width="6.60" height="113.23" fill="#28a4a2" stroke="#145857" stroke-width="0.8"/>
<rect x="396.06" y="235.91" width="6.60" height="103.09" fill="#28a4a2" stroke="#145857" stroke-width="0.8"/>
<rect x="402.65" y="222.39" width="6.60" height="116.61" fill="#28a4a2" stroke="#145857" stroke-width="0.8"/>
<rect x="409.25" y="225.77" width="6.60" height="113.23" fill="#28a4a2" stroke="#145857" stroke-width="0.8"/>
<rect x="415.85" y="249.43" width="6.60" height="89.57" fill="#28a4a2" stroke="#145857" stroke-width="0.8"/>
<rect x="422.44" y="259.57" width="6.60" height="79.43" fill="#28a4a2" stroke="#145857" stroke-width="0.8"/>
<rect x="429.04" y="262.95" width="6.60" height="76.05" fill="#28a4a2" stroke="#145857" stroke-width="0.8"/>
<rect x="435.64" y="278.16" width="6.60" height="60.84" fill="#28a4a2" stroke="#145857" stroke-width="0.8"/>
<rect x="442.23" y="283.23" width="6.60" height="55.77" fill="#28a4a2" stroke="#145857" stroke-width="0.8"/>
<rect x="448.83" y="293.37" width="6.60" height="45.63" fill="#28a4a2" stroke="#145857" stroke-width="0.8"/>
<rect x="455.43" y="298.44" width="6.60" height="40.56" fill="#28a4a2" stroke="#145857" stroke-width="0.8"/>
<rect x="462.02" y="322.10" width="6.60" height="16.90" fill="#28a4a2" stroke="#145857" stroke-width="0.8"/>
<rect x="468.62" y="320.41" width="6.60" height="18.59" fill="#28a4a2" stroke="#145857" stroke-width="0.8"/>
<rect x="475.22" y="335.62" width="6.60" height="3.38" fill="#28a4a2" stroke="#145857" stroke-width="0.8"/>
<rect x="481.81" y="332.24" width="6.60" height="6.76" fill="#28a4a2" stroke="#145857" stroke-width="0.8"/>
<rect x="488.41" y="330.55" width="6.60" height="8.45" fill="#28a4a2" stroke="#145857" stroke-width="0.8"/>
<rect x="495.01" y="337.31" width="6.60" height="1.69" fill="#28a4a2" stroke="#145857" stroke-width="0.8"/>
<rect x="501.60" y="335.62" width="6.60" height="3.38" fill="#28a4a2" stroke="#145857" stroke-width="0.8"/>
</g>
<g filter="url(#bt)">
<text x="140.5" y="22.9" text-anchor="middle" font-size="5.3" font-weight="bold" fill="#222">(A)</text>
<text transform="translate(27.94,149.30) rotate(-90)" text-anchor="middle" font-size="6.4" fill="#111">15</text>
<text transform="translate(27.94,112.70) rotate(-90)" text-anchor="middle" font-size="6.4" fill="#111">20</text>
<text transform="translate(27.94,76.10) rotate(-90)" text-anchor="middle" font-size="6.4" fill="#111">25</text>
<text transform="translate(27.94,39.50) rotate(-90)" text-anchor="middle" font-size="6.4" fill="#111">30</text>
<text x="54.50" y="171.74" text-anchor="middle" font-size="6.4" fill="#111">15</text>
<text x="116.40" y="171.74" text-anchor="middle" font-size="6.4" fill="#111">20</text>
<text x="178.30" y="171.74" text-anchor="middle" font-size="6.4" fill="#111">25</text>
<text x="240.20" y="171.74" text-anchor="middle" font-size="6.4" fill="#111">30</text>
<text x="140.5" y="182.8" text-anchor="middle" font-size="6.4" fill="#111">Observation 1</text>
<text transform="translate(17.09,97.70) rotate(-90)" text-anchor="middle" font-size="6.4" fill="#111">Observation 2</text>
<text class="r" x="206" y="41.7" font-size="4.4" fill="#222">R<tspan dy="-1.7" font-size="3">2</tspan><tspan dy="1.7"> = 0.93</tspan></text>
<text class="r" x="206.8" y="46.6" font-size="4.4" fill="#222">n = 848</text>
<text x="409" y="22.9" text-anchor="middle" font-size="5.3" font-weight="bold" fill="#222">(B)</text>
<text transform="translate(295.84,156.70) rotate(-90)" text-anchor="middle" font-size="6.4" fill="#111">-2</text>
<text transform="translate(295.84,127.20) rotate(-90)" text-anchor="middle" font-size="6.4" fill="#111">-1</text>
<text transform="translate(295.84,97.70) rotate(-90)" text-anchor="middle" font-size="6.4" fill="#111">0</text>
<text transform="translate(295.84,68.20) rotate(-90)" text-anchor="middle" font-size="6.4" fill="#111">1</text>
<text transform="translate(295.84,38.70) rotate(-90)" text-anchor="middle" font-size="6.4" fill="#111">2</text>
<text x="322.70" y="171.74" text-anchor="middle" font-size="6.4" fill="#111">15</text>
<text x="384.53" y="171.74" text-anchor="middle" font-size="6.4" fill="#111">20</text>
<text x="446.37" y="171.74" text-anchor="middle" font-size="6.4" fill="#111">25</text>
<text x="508.20" y="171.74" text-anchor="middle" font-size="6.4" fill="#111">30</text>
<text x="409" y="182.8" text-anchor="middle" font-size="6.4" fill="#111">Mean protein concentration (%)</text>
<text transform="translate(285.54,97.70) rotate(-90)" text-anchor="middle" font-size="6.4" fill="#111">Difference between observations (%)</text>
<text x="141" y="204.9" text-anchor="middle" font-size="5.3" font-weight="bold" fill="#222">(C)</text>
<text transform="translate(27.94,338.60) rotate(-90)" text-anchor="middle" font-size="6.4" fill="#111">24</text>
<text transform="translate(27.94,315.04) rotate(-90)" text-anchor="middle" font-size="6.4" fill="#111">25</text>
<text transform="translate(27.94,291.48) rotate(-90)" text-anchor="middle" font-size="6.4" fill="#111">26</text>
<text transform="translate(27.94,267.92) rotate(-90)" text-anchor="middle" font-size="6.4" fill="#111">27</text>
<text transform="translate(27.94,244.36) rotate(-90)" text-anchor="middle" font-size="6.4" fill="#111">28</text>
<text transform="translate(27.94,220.80) rotate(-90)" text-anchor="middle" font-size="6.4" fill="#111">29</text>
<text x="91.80" y="354.14" text-anchor="middle" font-size="6.4" fill="#111">Banner</text>
<text x="190.50" y="354.14" text-anchor="middle" font-size="6.4" fill="#111">DsAdmiral</text>
<text x="140.7" y="365" text-anchor="middle" font-size="6.4" fill="#111">Genotypes</text>
<text transform="translate(17.09,279.80) rotate(-90)" text-anchor="middle" font-size="6.4" fill="#111">Protein concentration (%)</text>
<text x="91.8" y="248.3" class="s" text-anchor="middle" font-size="4.2" fill="#000">Mean = 28.3</text>
<text x="91.8" y="253.1" class="s" text-anchor="middle" font-size="4.2" fill="#000">StDev = 0.15</text>
<text x="91.8" y="257.9" class="s" text-anchor="middle" font-size="4.2" fill="#000">CV = 0.52</text>
<text x="91.8" y="262.7" class="s" text-anchor="middle" font-size="4.2" fill="#000">n = 12</text>
<text x="190.5" y="307.7" class="s" text-anchor="middle" font-size="4.2" fill="#000">Mean = 24.4</text>
<text x="190.5" y="312.5" class="s" text-anchor="middle" font-size="4.2" fill="#000">StDev = 0.13</text>
<text x="190.5" y="317.3" class="s" text-anchor="middle" font-size="4.2" fill="#000">CV = 0.55</text>
<text x="190.5" y="322.1" class="s" text-anchor="middle" font-size="4.2" fill="#000">n = 12</text>
<text x="409" y="204.9" text-anchor="middle" font-size="5.3" font-weight="bold" fill="#222">(D)</text>
<text transform="translate(295.84,339.00) rotate(-90)" text-anchor="middle" font-size="6.4" fill="#111">0</text>
<text transform="translate(295.84,322.10) rotate(-90)" text-anchor="middle" font-size="6.4" fill="#111">10</text>
<text transform="translate(295.84,305.20) rotate(-90)" text-anchor="middle" font-size="6.4" fill="#111">20</text>
<text transform="translate(295.84,288.30) rotate(-90)" text-anchor="middle" font-size="6.4" fill="#111">30</text>
<text transform="translate(295.84,271.40) rotate(-90)" text-anchor="middle" font-size="6.4" fill="#111">40</text>
<text transform="translate(295.84,254.50) rotate(-90)" text-anchor="middle" font-size="6.4" fill="#111">50</text>
<text transform="translate(295.84,237.60) rotate(-90)" text-anchor="middle" font-size="6.4" fill="#111">60</text>
<text transform="translate(295.84,220.70) rotate(-90)" text-anchor="middle" font-size="6.4" fill="#111">70</text>
<text x="310.30" y="354.14" text-anchor="middle" font-size="6.4" fill="#111">15</text>
<text x="376.27" y="354.14" text-anchor="middle" font-size="6.4" fill="#111">20</text>
<text x="442.23" y="354.14" text-anchor="middle" font-size="6.4" fill="#111">25</text>
<text x="508.20" y="354.14" text-anchor="middle" font-size="6.4" fill="#111">30</text>
<text x="409" y="364.8" text-anchor="middle" font-size="6.4" fill="#111">Protein concentration (%)</text>
<text transform="translate(285.54,279.80) rotate(-90)" text-anchor="middle" font-size="6.4" fill="#111">Frequency</text>
</g>
</svg></body></html>
